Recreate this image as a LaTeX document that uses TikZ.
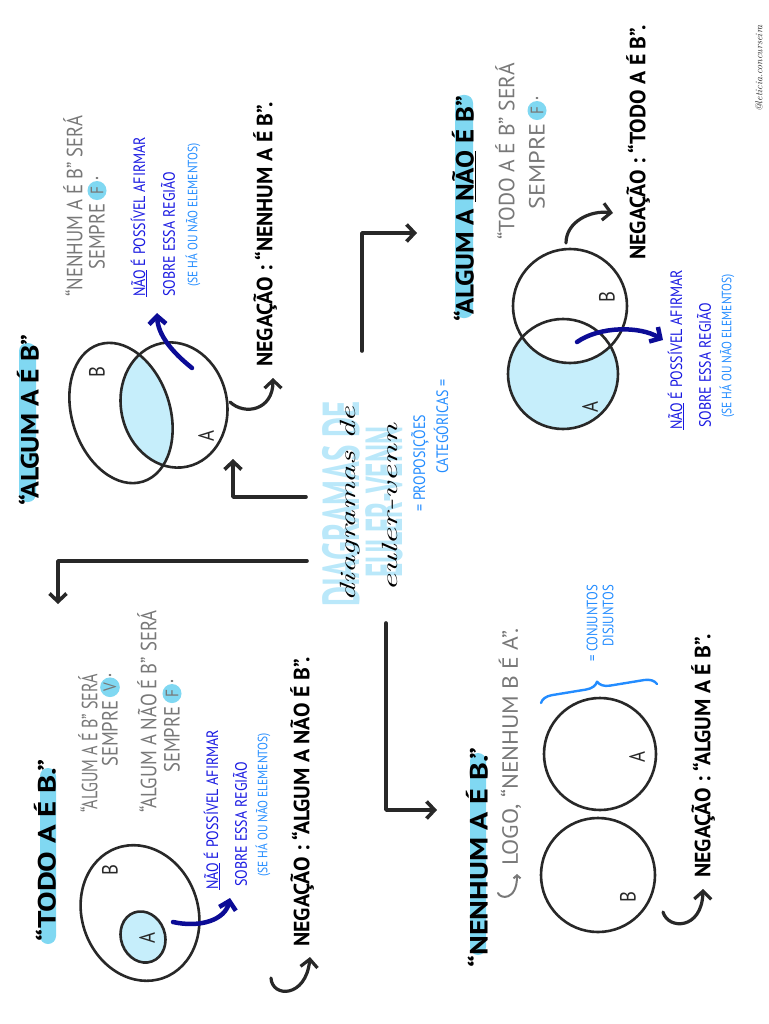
\documentclass[tikz,border=0pt]{standalone}
\usepackage{fontspec}
\setmainfont{PT Sans}[FakeStretch=0.85]
\newfontfamily\handfont{Latin Modern Roman}
\usetikzlibrary{arrows.meta}
\usetikzlibrary{calc}
\usetikzlibrary{decorations.pathreplacing}
\definecolor{barblue}{RGB}{128,216,242}
\definecolor{fillblue}{RGB}{198,238,251}
\definecolor{titleblue}{RGB}{186,232,250}
\definecolor{inkblue}{RGB}{25,25,225}
\definecolor{navy1}{RGB}{12,12,150}
\definecolor{skyblue1}{RGB}{35,140,255}
\definecolor{greyink}{RGB}{120,120,120}
\definecolor{darkink}{RGB}{40,40,40}

\tikzset{
	vtext/.style={rotate=90, anchor=west, inner sep=0pt},
	headtxt/.style={vtext, xscale=1.16, font=\bfseries\fontsize{22}{24}\selectfont},
	titletxt/.style={vtext, font=\bfseries\fontsize{25}{26}\selectfont},
	greytxt/.style={vtext, text=greyink, font=\fontsize{22}{24}\selectfont},
	bluetxt/.style={vtext, text=inkblue, font=\fontsize{16.5}{17}\selectfont},
	parentxt/.style={vtext, text=skyblue1, font=\fontsize{13.5}{14}\selectfont},
	setlabel/.style={rotate=90, text=darkink, font=\fontsize{22}{22}\selectfont},
	truthdot/.style={circle, fill=barblue, inner sep=1.5pt, rotate=90, anchor=west, text=greyink, font=\fontsize{18}{18}\selectfont},
	setline/.style={draw=darkink, line width=2.6pt},
	lpath/.style={->, line width=3.6pt, draw=darkink},
	hookpath/.style={->, line width=3.2pt, draw=darkink},
	bluehook/.style={->, line width=4.5pt, draw=navy1},
}

\begin{document}
\begin{tikzpicture}[x=1pt,y=-1pt]
	\useasboundingbox (0,0) rectangle (768,1024);
	\begin{scope}[>={Straight Barb[length=8pt,width=17pt]}, line join=round, line cap=round]

	% centro
	\node[vtext, text=titleblue, font=\bfseries\fontsize{52}{52}\selectfont, xscale=0.7] (ttl1) at (341,607) {DIAGRAMAS DE};
	\node[vtext, text=titleblue, font=\bfseries\fontsize{52}{52}\selectfont, xscale=0.62] (ttl2) at (384,578) {EULER-VENN};
	\node[vtext, font=\handfont\itshape\fontsize{22}{22}\selectfont, xscale=1.58] (hw1) at (350,602) {diagramas de};
	\node[vtext, font=\handfont\itshape\fontsize{22}{22}\selectfont, xscale=1.72] (hw2) at (390,592) {euler-venn};
	\node[vtext, text=skyblue1, font=\fontsize{16.5}{17}\selectfont] (prop1) at (420,512) {= PROPOSIÇÕES};
	\node[vtext, text=skyblue1, font=\fontsize{16.5}{17}\selectfont] (prop2) at (441,474) {CATEGÓRICAS =};

	\coordinate (ulS) at (306,497); \coordinate (ulE) at (233,459);
	\coordinate (dlS) at (307,561); \coordinate (dlE) at (58,604);
	\coordinate (urS) at (362,351); \coordinate (urE) at (417,233);
	\coordinate (drS) at (386,623); \coordinate (drE) at (437,810);
	\foreach \s/\e in {ulS/ulE,dlS/dlE}
	{
		\draw[lpath] (\s) -| (\e);
	}
	\foreach \s/\e in {urS/urE,drS/drE}
	{
		\draw[lpath] (\s) |- (\e);
	}

	% algum A e B
	\fill[barblue, rounded corners=8pt] (19,343) rectangle (36,502);
	\node[titletxt, xscale=1.3] (algumAB) at (28,506) {“ALGUM A É B”};
	\node[greytxt] (nota1) at (73,297) {“NENHUM A É B” SERÁ};
	\node[greytxt] (nota1b) at (97,270) {SEMPRE};
	\node[truthdot] (f1) at ($(nota1b.east)+(0,-3)$) {F};
	\node[greytxt] (pt1) at (f1.east) {.};
	\node[bluetxt] (aviso1) at (139,297) {\underline{NÃO} É POSSÍVEL AFIRMAR};
	\node[bluetxt] (aviso1b) at (168,297) {SOBRE ESSA REGIÃO};
	\node[parentxt] (aviso1c) at (193,287) {(SE HÁ OU NÃO ELEMENTOS)};
	\node[headtxt] (neg1) at (265,367) {NEGAÇÃO : “NENHUM A É B”.};

	\coordinate (vB1) at (121,413);
	\coordinate (vA1) at (174,405);
	\begin{scope}
		\clip (vB1) ellipse [x radius=49pt, y radius=72pt, rotate=18];
		\fill[fillblue] (vA1) ellipse [x radius=53pt, y radius=63pt, rotate=12];
	\end{scope}
	\draw[setline] (vB1) ellipse [x radius=49pt, y radius=72pt, rotate=18];
	\draw[setline] (vA1) ellipse [x radius=53pt, y radius=63pt, rotate=12];
	\node[setlabel] (lblB1) at (97,372) {B};
	\node[setlabel] (lblA1) at (206,436) {A};

	\coordinate (bs1) at (192,368); \coordinate (be1) at (157,313);
	\draw[bluehook] (bs1) .. controls (172,352) and (158,335) .. (be1);
	\coordinate (hs1) at (230,402); \coordinate (he1) at (273,378);
	\draw[hookpath] (hs1) .. controls (245,416) and (273,410) .. (he1);

	% todo A e B
	\fill[barblue, rounded corners=8pt] (40,768) rectangle (56,944);
	\node[titletxt, xscale=1.45] (todoAB) at (45,942) {“TODO A É B.”};
	\node[greytxt, xscale=0.86] (nota2) at (88,813) {“ALGUM A É B” SERÁ};
	\node[greytxt] (nota2b) at (110,767) {SEMPRE};
	\node[truthdot] (v2) at ($(nota2b.east)+(0,-3)$) {V};
	\node[greytxt] (pt2) at (v2.east) {.};
	\node[greytxt] (nota2c) at (147,813) {“ALGUM A NÃO É B” SERÁ};
	\node[greytxt] (nota2d) at (172,773) {SEMPRE};
	\node[truthdot] (f2) at ($(nota2d.east)+(0,-3)$) {F};
	\node[greytxt] (pt3) at (f2.east) {.};
	\node[bluetxt] (aviso2) at (212,890) {\underline{NÃO} É POSSÍVEL AFIRMAR};
	\node[bluetxt] (aviso2b) at (240,887) {SOBRE ESSA REGIÃO};
	\node[parentxt] (aviso2c) at (263,877) {(SE HÁ OU NÃO ELEMENTOS)};
	\node[headtxt] (neg2) at (302,947) {NEGAÇÃO : “ALGUM A NÃO É B”.};

	\coordinate (vB2) at (140,913);
	\coordinate (vA2) at (143,937);
	\fill[fillblue] (vA2) ellipse [x radius=22pt, y radius=26pt, rotate=20];
	\draw[setline] (vB2) ellipse [x radius=58pt, y radius=69pt, rotate=20];
	\draw[setline] (vA2) ellipse [x radius=22pt, y radius=26pt, rotate=20];
	\node[setlabel] (lblB2) at (110,870) {B};
	\node[setlabel] (lblA2) at (147,938) {A};

	\coordinate (bs2) at (173,922); \coordinate (be2) at (230,898);
	\draw[bluehook] (bs2) .. controls (200,928) and (225,920) .. (be2);
	\coordinate (hs2) at (271,978); \coordinate (he2) at (310,957);
	\draw[hookpath] (hs2) .. controls (272,998) and (306,998) .. (he2);

	% algum A nao e B
	\fill[barblue, rounded corners=8pt] (455,95) rectangle (473,318);
	\node[titletxt, xscale=1.27] (algumNao) at (464,322) {“ALGUM A \underline{NÃO} É B”};
	\node[greytxt, xscale=1.15] (nota3) at (505,240) {“TODO A É B” SERÁ};
	\node[greytxt, xscale=1.3] (nota3b) at (537,210) {SEMPRE};
	\node[truthdot] (f3) at ($(nota3b.east)+(0,-3)$) {F};
	\node[greytxt] (pt4) at (f3.east) {.};
	\node[headtxt] (neg3) at (638,260) {NEGAÇÃO : “TODO A É B”.};

	\coordinate (vB3) at (570,306);
	\coordinate (vA3) at (563,374);
	\fill[fillblue] (vA3) circle [radius=55pt];
	\begin{scope}
		\clip (vA3) circle [radius=55pt];
		\fill[white] (vB3) circle [radius=57pt];
	\end{scope}
	\draw[setline] (vB3) circle [radius=57pt];
	\draw[setline] (vA3) circle [radius=55pt];
	\node[setlabel] (lblB3) at (607,297) {B};
	\node[setlabel] (lblA3) at (590,407) {A};

	\coordinate (bs3) at (577,342); \coordinate (be3) at (663,340);
	\draw[bluehook] (bs3) .. controls (600,326) and (640,326) .. (be3);
	\coordinate (hs3) at (566,243); \coordinate (he3) at (613,213);
	\draw[hookpath] (hs3) .. controls (566,222) and (590,210) .. (he3);
	\node[bluetxt] (aviso3) at (676,430) {\underline{NÃO} É POSSÍVEL AFIRMAR};
	\node[bluetxt] (aviso3b) at (704,428) {SOBRE ESSA REGIÃO};
	\node[parentxt] (aviso3c) at (727,418) {(SE HÁ OU NÃO ELEMENTOS)};

	% nenhum A e B
	\fill[barblue, rounded corners=8pt] (470,753) rectangle (486,955);
	\node[titletxt, xscale=1.42] (nenhumAB) at (477,968) {“NENHUM A É B.”};
	\coordinate (lg1) at (498,893); \coordinate (lg2) at (517,874);
	\draw[greyink, line width=2pt, -{Straight Barb[length=3pt,width=7pt]}] (lg1) .. controls (500,899) and (517,901) .. (lg2);
	\node[greytxt, xscale=1.26] (logo) at (510,866) {LOGO, “NENHUM B É A”.};

	\coordinate (vA4) at (600,754);
	\coordinate (vB4) at (598,875);
	\draw[setline] (vA4) circle [radius=56pt];
	\draw[setline] (vB4) circle [radius=57pt];
	\node[setlabel] (lblA4) at (637,757) {A};
	\node[setlabel] (lblB4) at (628,897) {B};

	\coordinate (brL) at (541,703); \coordinate (brR) at (657,684);
	\draw[skyblue1, line width=2.4pt, decorate, decoration={brace, amplitude=12pt}] (brL) -- (brR);
	\node[vtext, text=skyblue1, font=\fontsize{15}{16}\selectfont, align=right] (disj) at (600,662) {= CONJUNTOS\\DISJUNTOS};

	\coordinate (hs4) at (663,912); \coordinate (he4) at (703,889);
	\draw[hookpath] (hs4) .. controls (668,930) and (702,930) .. (he4);
	\node[headtxt] (neg4) at (703,878) {NEGAÇÃO : “ALGUM A É B”.};

	\node[vtext, font=\handfont\itshape\fontsize{10}{10}\selectfont, text=darkink] (autora) at (759,112) {@leticia.concurseira};

	\end{scope}
\end{tikzpicture}
\end{document}
